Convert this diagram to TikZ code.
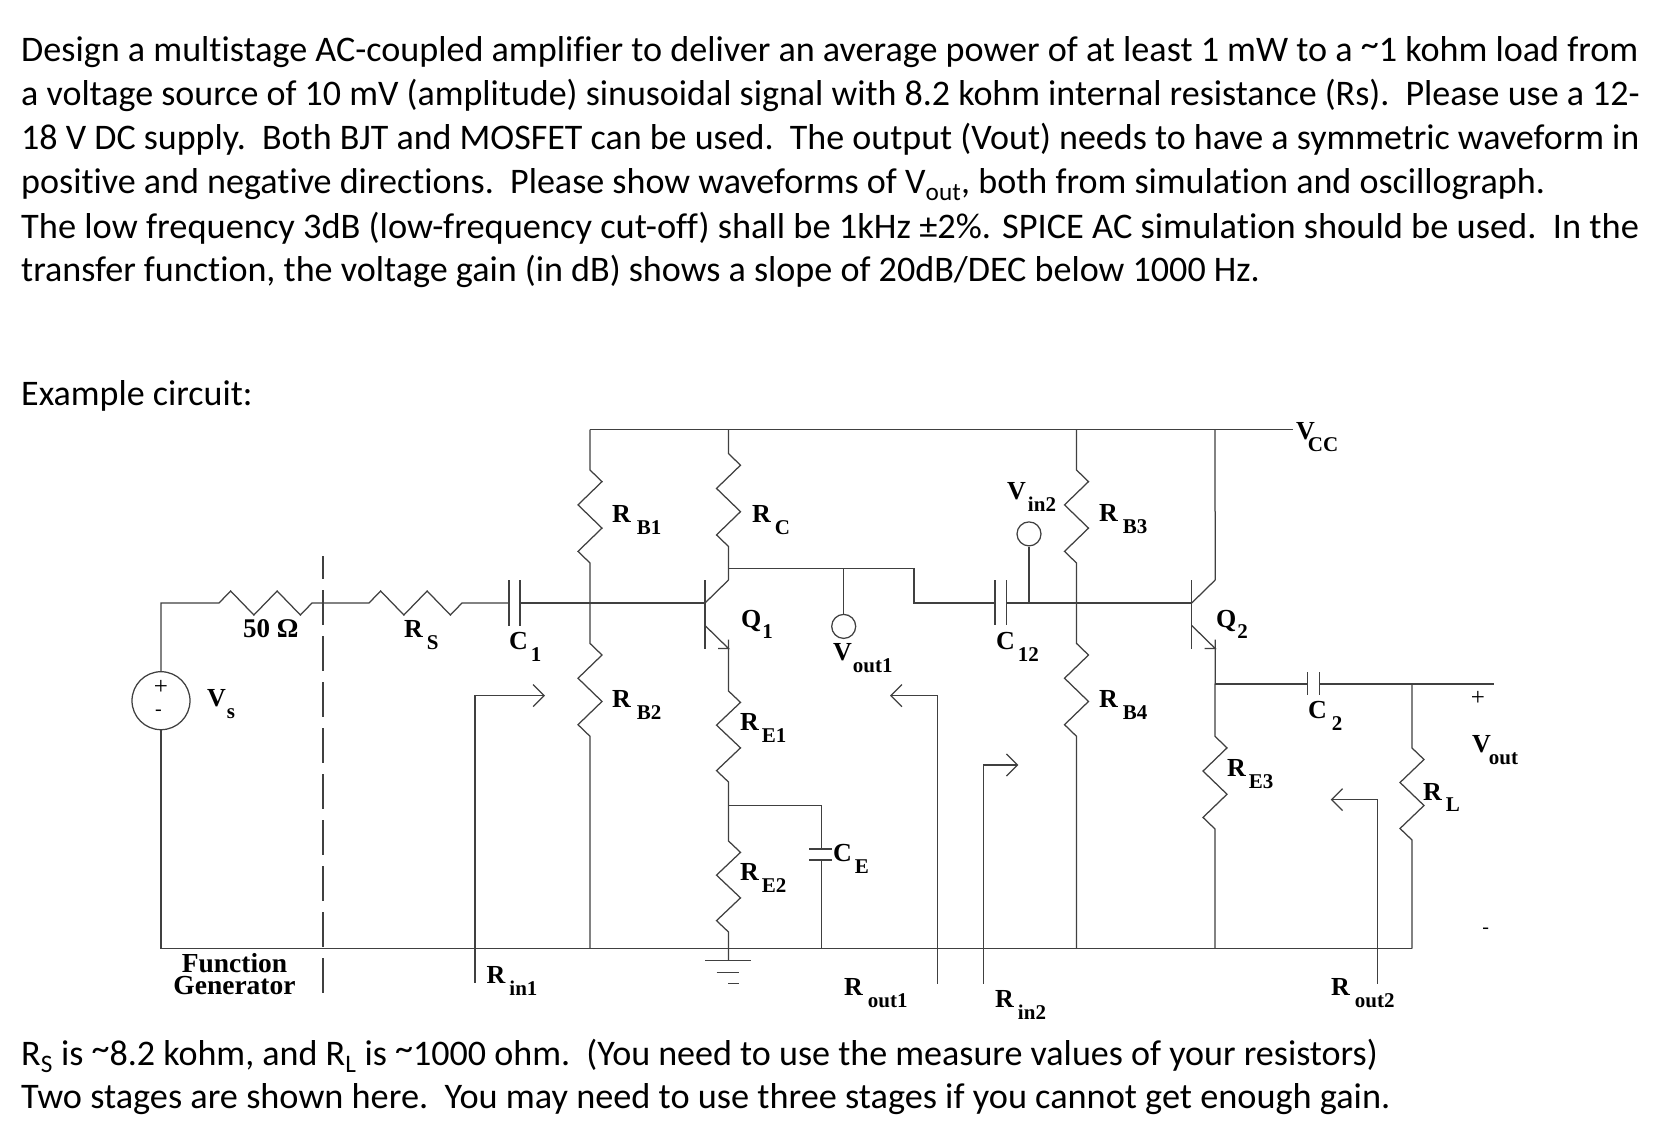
\documentclass[tikz,border=0pt]{standalone}
\usepackage{fontspec}
\setmainfont{Carlito}[Ligatures=NoCommon]
\newfontfamily\cktfont{Liberation Serif}
\usetikzlibrary{arrows.meta,calc}
\newcommand{\cktlbl}[4][3]{{\cktfont\bfseries\fontsize{26}{26}\selectfont #2\hspace{#1pt}\raisebox{-#4pt}{\fontsize{21}{21}\selectfont #3}}}
\newcommand{\hightilde}{\raisebox{5pt}{\textasciitilde}}
\newcommand{\linefit}[2]{\scalebox{#1}[1]{#2}}
\tikzset{
   wire/.style={line width=1.25pt, draw=black!75},
   probe/.style={circle, draw=black!75, line width=1.25pt, minimum size=24pt, inner sep=0pt},
   source/.style={circle, draw=black!75, line width=1.25pt, minimum size=58pt, inner sep=0pt},
   lbl/.style={anchor=base west, inner sep=0pt},
   para/.style={anchor=base west, inner sep=0pt, font=\fontsize{36}{36}\selectfont},
   pol/.style={inner sep=0pt, font=\cktfont\fontsize{25}{25}\selectfont},
   sense/.style={wire, -{Straight Barb[length=11pt,width=22pt,line width=1.25pt]}},
   rzigv/.style={to path={let \p1=(\tikztostart), \p2=(\tikztotarget), \n1={(\y2-\y1)/8} in
      -- ++(12pt,\n1) -- ++(-24pt,2*\n1) -- ++(24pt,2*\n1) -- ++(-24pt,2*\n1) -- ++(12pt,\n1)}},
   rzigh/.style={to path={let \p1=(\tikztostart), \p2=(\tikztotarget), \n1={(\x2-\x1)/8} in
      -- ++(\n1,12pt) -- ++(2*\n1,-24pt) -- ++(2*\n1,24pt) -- ++(2*\n1,-24pt) -- ++(\n1,12pt)}},
   bjt/.pic={
      \coordinate (-b) at (0,0);
      \coordinate (-c) at (23.5,-23);
      \coordinate (-e) at (23.5,36.5);
      \draw[wire] (0,-23) -- (0,45.5);
      \draw[wire] (-b) -- (-c);
      \draw[wire] (0,22.5) -- (23.5,45.5) -- (13,45.5);
   }
}
\begin{document}
\begin{tikzpicture}[x=1pt,y=-1pt]
   \useasboundingbox (0,0) rectangle (1670,1142);
   \fill[white] (0,0) rectangle (1670,1142);
   % problem statement
   \node[para] (line1) at (21,61.7) {\linefit{1.0033}{Design a multistage AC-coupled amplifier to deliver an average power of at least 1 mW to a \hightilde 1 kohm load from}};
   \node[para] (line2) at (21,106) {a voltage source of 10 mV (amplitude) sinusoidal signal with 8.2 kohm internal resistance (Rs).\ \ Please use a 12-};
   \node[para] (line3) at (21,150) {18 V DC supply.\ \ Both BJT and MOSFET can be used.\ \ The output (Vout) needs to have a symmetric waveform in};
   \node[para] (line4) at (21,193.5) {\linefit{1.002}{positive and negative directions.\ \ Please show waveforms of V\textsubscript{out}, both from simulation and oscillograph.}};
   \node[para] (line5) at (21,238) {\linefit{1.0113}{The low frequency 3dB (low-frequency cut-off) shall be 1kHz ±2\%. SPICE AC simulation should be used.\ \ In the}};
   \node[para] (line6) at (21,281.7) {\linefit{1.0026}{transfer function, the voltage gain (in dB) shows a slope of 20dB/DEC below 1000 Hz.}};
   \node[para] (example) at (21,405.5) {Example circuit:};
   \node[para] (note1) at (21,1065) {\linefit{1.0016}{R\textsubscript{S} is \hightilde 8.2 kohm, and R\textsubscript{L} is \hightilde 1000 ohm.\ \ (You need to use the measure values of your resistors)}};
   \node[para] (note2) at (21,1108.5) {\linefit{1.008}{Two stages are shown here.\ \ You may need to use three stages if you cannot get enough gain.}};
   % junctions
   \coordinate (topB1) at (590,429.5);
   \coordinate (topC) at (728.5,429.5);
   \coordinate (topB3) at (1076.5,429.5);
   \coordinate (topC2) at (1215,429.5);
   \coordinate (vcc) at (1293,429.5);
   \coordinate (gndS) at (161,948.7);
   \coordinate (gndB2) at (590,948.7);
   \coordinate (gndCE) at (821.3,948.7);
   \coordinate (gndB4) at (1076.5,948.7);
   \coordinate (gndE3) at (1215,948.7);
   \coordinate (gndL) at (1412,948.7);
   \coordinate (inL) at (161,603);
   \coordinate (nodeB1) at (590,603);
   \coordinate (nodeB2) at (1076.5,603);
   \coordinate (nodeC) at (728.5,568.7);
   \coordinate (nodeE) at (728.5,805.5);
   \coordinate (nodeO) at (1215,684);
   \coordinate (nodeL) at (1412,684);
   \coordinate (outEnd) at (1493.7,684);
   % source and input branch
   \node[source] (Vs) at (161,700.7) {};
   \pic (Q1) at (705,603) {bjt};
   \pic (Q2) at (1191.7,603) {bjt};
   \draw[wire] (Vs) -- (inL) -- (219,603) to[rzigh] (312,603) -- (369,603) to[rzigh] (462,603) -- (509,603);
   \draw[wire] (509,580) -- (509,625.6);
   \draw[wire] (520,580) -- (520,625.6);
   \draw[wire] (520,603) -- (nodeB1) -- (Q1-b);
   \draw[wire] (Vs) -- (gndS) -- (gndL);
   % rails
   \draw[wire] (topB1) -- (vcc);
   \draw[wire] (topB1) -- (590,470) to[rzigv] (590,563) -- (nodeB1) -- (590,643.4) to[rzigv] (590,736.3) -- (gndB2);
   \draw[wire] (topC) -- (728.5,453.6) to[rzigv] (728.5,546.5) -- (nodeC) -- (Q1-c);
   \draw[wire] (Q1-e) -- (728.5,691) to[rzigv] (728.5,782) -- (nodeE) -- (728.5,841) to[rzigv] (728.5,932) -- (728.5,960.5);
   \draw[wire] (nodeE) -- (821.3,805.5) -- (821.3,849);
   \draw[wire] (809.3,849) -- (832.3,849);
   \draw[wire] (809.3,860) -- (832.3,860);
   \draw[wire] (821.3,860) -- (gndCE);
   % ground
   \draw[wire] (705,960.5) -- (751,960.5);
   \draw[wire] (716.7,972.4) -- (739.3,972.4);
   \draw[wire] (728,983.5) -- (739,983.5);
   % second stage
   \node[probe] (Vout1) at (843.7,626.4) {};
   \node[probe] (Vin2) at (1029,533.9) {};
   \draw[wire] (nodeC) -- (914,568.7) -- (914,603) -- (995,603);
   \draw[wire] (Vout1) -- (843.7,568.7);
   \draw[wire] (995,580) -- (995,624.8);
   \draw[wire] (1006.7,580) -- (1006.7,624.8);
   \draw[wire] (1006.7,603) -- (nodeB2) -- (Q2-b);
   \draw[wire] (Vin2) -- (1029,603);
   \draw[wire] (topB3) -- (1076.5,470) to[rzigv] (1076.5,563) -- (nodeB2) -- (1076.5,643.4) to[rzigv] (1076.5,736.3) -- (gndB4);
   \draw[wire] (topC2) -- (Q2-c);
   \draw[wire] (Q2-e) -- (1215,736.3) to[rzigv] (1215,829) -- (gndE3);
   \draw[wire] (nodeO) -- (1307.7,684);
   \draw[wire] (1307.7,672) -- (1307.7,694.8);
   \draw[wire] (1319.3,672) -- (1319.3,694.8);
   \draw[wire] (1319.3,684) -- (nodeL) -- (outEnd);
   \draw[wire] (nodeL) -- (1412,748) to[rzigv] (1412,840) -- (gndL);
   % generator boundary
   \draw[wire, dash pattern=on 35pt off 11pt, dash phase=12pt] (323,556.4) -- (323,993);
   % looking-in resistances
   \draw[sense] (475,982.7) -- (475,695.6) -- (545,695.6);
   \draw[sense] (937.3,983.5) -- (937.3,695.6) -- (890,695.6);
   \draw[sense] (983.3,983.5) -- (983.3,765) -- (1018.3,765);
   \draw[sense] (1377.3,983.5) -- (1377.3,799.6) -- (1330.7,799.6);
   % labels
   \node[lbl] (l50) at (243,637.5) {\cktfont\bfseries\fontsize{27}{27}\selectfont 50 Ω};
   \node[lbl] (lRs) at (404,637.5) {\cktlbl[4]{R}{S}{11.5}};
   \node[lbl] (lC1) at (509,649) {\cktlbl[3]{C}{1}{12}};
   \node[lbl] (lVs) at (207,706.7) {\cktlbl[1]{V}{s}{11.5}};
   \node[lbl] (lRB1) at (612,522) {\cktlbl[6]{R}{B1}{12}};
   \node[lbl] (lRB2) at (612,707) {\cktlbl[6]{R}{B2}{12}};
   \node[lbl] (lRC) at (752,522) {\cktlbl[4]{R}{C}{12}};
   \node[lbl] (lQ1) at (741,627) {\cktlbl[1]{Q}{1}{11}};
   \node[lbl] (lVout1) at (833,660) {\cktlbl[1]{V}{out1}{12}};
   \node[lbl] (lVin2) at (1007,499) {\cktlbl[2]{V}{in2}{12}};
   \node[lbl] (lC12) at (996,649) {\cktlbl[3]{C}{12}{12}};
   \node[lbl] (lRE1) at (740,730) {\cktlbl[3]{R}{E1}{12}};
   \node[lbl] (lRE2) at (740,880.6) {\cktlbl[3]{R}{E2}{12}};
   \node[lbl] (lCE) at (833,861) {\cktlbl[3]{C}{E}{12}};
   \node[lbl] (lRin1) at (486.5,983.5) {\cktlbl[4]{R}{in1}{12}};
   \node[lbl] (lRout1) at (844,995) {\cktlbl[5]{R}{out1}{12}};
   \node[lbl] (lRin2) at (995,1007) {\cktlbl[4]{R}{in2}{12}};
   \node[lbl] (lRB3) at (1099,521) {\cktlbl[5]{R}{B3}{12}};
   \node[lbl] (lRB4) at (1099,707) {\cktlbl[5]{R}{B4}{12}};
   \node[lbl] (lQ2) at (1216,627) {\cktlbl[1]{Q}{2}{11}};
   \node[lbl] (lRE3) at (1227,776) {\cktlbl{R}{E3}{12}};
   \node[lbl] (lC2) at (1308,718.5) {\cktlbl[5]{C}{2}{12}};
   \node[lbl] (lRL) at (1423,800) {\cktlbl[4]{R}{L}{11}};
   \node[lbl] (lVout) at (1472,752) {\cktlbl[-2]{V}{out}{12}};
   \node[lbl] (lRout2) at (1331,995) {\cktlbl[5]{R}{out2}{12}};
   \node[lbl] (lVcc) at (1296,439) {\cktlbl[-7]{V}{CC}{12}};
   \node[inner sep=0pt, align=center, font=\cktfont\bfseries\fontsize{27.5}{22.5}\selectfont] (lGen) at (234.5,974) {Function\\Generator};
   \node[pol] (pS) at (161,687) {+};
   \node[pol, font=\cktfont\fontsize{20}{20}\selectfont] (mS) at (158.4,713) {-};
   \node[pol] (pO) at (1478,698) {+};
   \node[pol, font=\cktfont\fontsize{20}{20}\selectfont] (mO) at (1485.7,931) {-};
\end{tikzpicture}
\end{document}
